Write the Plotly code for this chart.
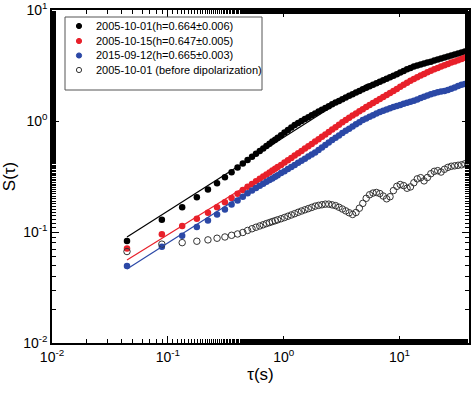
import plotly.graph_objects as go

# ---- data ----
tau = [0.0444, 0.0888, 0.133, 0.178, 0.222, 0.266, 0.311, 0.355, 0.400, 0.444,
       0.488, 0.533, 0.577, 0.622, 0.666, 0.710, 0.755, 0.799, 0.844, 0.888,
       0.950, 1.017, 1.088, 1.164, 1.245, 1.333, 1.426, 1.526, 1.633, 1.747,
       1.869, 2.000, 2.140, 2.290, 2.451, 2.622, 2.806, 3.002, 3.212, 3.437,
       3.678, 3.935, 4.211, 4.505, 4.821, 5.158, 5.519, 5.905, 6.319, 6.761,
       7.234, 7.741, 8.283, 8.862, 9.483, 10.15, 10.86, 11.62, 12.43, 13.30,
       14.23, 15.23, 16.29, 17.43, 18.65, 19.96, 21.36, 22.85, 24.45, 26.16,
       27.99, 29.95, 32.05, 34.29, 36.69, 39.26]

s_20051001 = [0.0831, 0.1288, 0.1672, 0.2054, 0.2420, 0.2755, 0.3116, 0.3453, 0.3805, 0.4131,
              0.4448, 0.4761, 0.5063, 0.5374, 0.5657, 0.5957, 0.6232, 0.6521, 0.6795, 0.7079,
              0.7452, 0.7861, 0.8277, 0.8731, 0.9192, 0.9596, 1.000, 1.040, 1.081, 1.127,
              1.171, 1.216, 1.264, 1.312, 1.361, 1.413, 1.466, 1.518, 1.572, 1.631,
              1.686, 1.742, 1.804, 1.865, 1.931, 1.991, 2.054, 2.123, 2.189, 2.258,
              2.333, 2.406, 2.481, 2.559, 2.639, 2.733, 2.824, 2.919, 3.010, 3.098,
              3.162, 3.228, 3.295, 3.357, 3.426, 3.505, 3.578, 3.652, 3.728, 3.806,
              3.893, 3.973, 4.055, 4.140, 4.235, 4.322]

s_20051015 = [0.0709, 0.0954, 0.1131, 0.1314, 0.1487, 0.1672, 0.1853, 0.2024, 0.2216, 0.2385,
              0.2553, 0.2710, 0.2865, 0.3017, 0.3155, 0.3301, 0.3440, 0.3578, 0.3713, 0.3845,
              0.4023, 0.4217, 0.4430, 0.4645, 0.4880, 0.5126, 0.5374, 0.5645, 0.5920, 0.6207,
              0.6521, 0.6851, 0.7197, 0.7561, 0.7959, 0.8382, 0.8806, 0.9268, 0.9736, 1.023,
              1.070, 1.120, 1.169, 1.223, 1.277, 1.334, 1.392, 1.451, 1.512, 1.578,
              1.645, 1.718, 1.789, 1.865, 1.947, 2.032, 2.118, 2.207, 2.304, 2.396,
              2.481, 2.564, 2.650, 2.745, 2.830, 2.919, 3.004, 3.092, 3.182, 3.268,
              3.357, 3.441, 3.526, 3.622, 3.705, 3.782]

s_20150912 = [0.0494, 0.0735, 0.0927, 0.1108, 0.1272, 0.1439, 0.1595, 0.1768, 0.1919, 0.2075,
              0.2229, 0.2366, 0.2485, 0.2606, 0.2715, 0.2830, 0.2937, 0.3041, 0.3144, 0.3249,
              0.3392, 0.3534, 0.3690, 0.3853, 0.4015, 0.4200, 0.4385, 0.4578, 0.4781, 0.4991,
              0.5212, 0.5475, 0.5763, 0.6067, 0.6400, 0.6740, 0.7065, 0.7421, 0.7781, 0.8176,
              0.8535, 0.8929, 0.9324, 0.9757, 1.019, 1.055, 1.090, 1.129, 1.167, 1.206,
              1.236, 1.269, 1.301, 1.334, 1.367, 1.395, 1.427, 1.457, 1.487, 1.524,
              1.565, 1.608, 1.652, 1.696, 1.739, 1.778, 1.815, 1.845, 1.868, 1.903,
              1.951, 2.004, 2.062, 2.118, 2.158, 2.189]

s_before = [0.0667, 0.0777, 0.0802, 0.0826, 0.0849, 0.0879, 0.0902, 0.0934, 0.0960, 0.0990,
            0.1033, 0.1070, 0.1104, 0.1134, 0.1162, 0.1191, 0.1216, 0.1241, 0.1264, 0.1288,
            0.1317, 0.1350, 0.1387, 0.1424, 0.1463, 0.1505, 0.1546, 0.1585, 0.1624, 0.1665,
            0.1710, 0.1738, 0.1760, 0.1782, 0.1782, 0.1756, 0.1728, 0.1672, 0.1611, 0.1549,
            0.1490, 0.1439, 0.1499, 0.1638, 0.1811, 0.2012, 0.2166, 0.2243, 0.2271, 0.2220,
            0.2109, 0.1991, 0.2079, 0.2361, 0.2579, 0.2677, 0.2617, 0.2480, 0.2547, 0.2778,
            0.3011, 0.3086, 0.2888, 0.3098, 0.3350, 0.3519, 0.3570, 0.3469, 0.3674, 0.3821,
            0.3908, 0.3948, 0.3990, 0.4031, 0.4115, 0.4217]

series_names = ["2005-10-01(h=0.664\u00b10.006)",
                "2005-10-15(h=0.647\u00b10.005)",
                "2015-09-12(h=0.665\u00b10.003)",
                "2005-10-01 (before dipolarization)"]

# power-law fits: S = a * (tau/tau0)^h over [tau0, tau_end]
fit_h = [0.664, 0.647, 0.665]
fit_a = [0.090, 0.056, 0.0465]
fit_tau0 = [0.0444, 0.0444, 0.0444]
fit_tau_end = [5.3, 0.7, 0.7]

x_ticks = [0.01, 0.1, 1, 10]
x_ticktext = ["10<sup>-2</sup>", "10<sup>-1</sup>", "10<sup>0</sup>", "10<sup>1</sup>"]
y_ticks = [0.01, 0.1, 1, 10]
y_ticktext = ["10<sup>-2</sup>", "10<sup>-1</sup>", "10<sup>0</sup>", "10<sup>1</sup>"]

# ---- styles ----
colors = ["#000000", "#e8202a", "#2b48a6"]
open_color = "#333333"
FONT = "Arial, Liberation Sans, sans-serif"
W, H = 474, 395
ML, MR, MT, MB = 52, 5, 10, 52
PW, PH = W - ML - MR, H - MT - MB


def px(xp):
    return (xp - ML) / PW


def py(yp):
    return 1 - (yp - MT) / PH


fig = go.Figure()
for vals, name, c in zip([s_20051001, s_20051015, s_20150912], series_names[:3], colors):
    fig.add_trace(go.Scatter(x=tau, y=vals, mode="markers", name=name, showlegend=False,
                             marker=dict(size=6.5, color=c, line=dict(width=0))))
fig.add_trace(go.Scatter(x=tau, y=s_before, mode="markers", name=series_names[3], showlegend=False,
                         marker=dict(size=6.5, symbol="circle-open", color=open_color,
                                     line=dict(width=1, color=open_color))))

for h, a, t0, t1, c in zip(fit_h, fit_a, fit_tau0, fit_tau_end, colors):
    fig.add_trace(go.Scatter(x=[t0, t1], y=[a, a * (t1 / t0) ** h], mode="lines",
                             showlegend=False, line=dict(color=c, width=1.2)))

axis_common = dict(type="log", showgrid=False, zeroline=False, showline=True, automargin=False,
                   linecolor="black", linewidth=1.5, mirror="allticks",
                   ticks="inside", ticklen=7, tickwidth=1.2, tickcolor="black",
                   ticklabeloverflow="allow",
                   tickfont=dict(family=FONT, size=14, color="black"),
                   minor=dict(ticks="inside", ticklen=4, tickwidth=1, tickcolor="black", showgrid=False))

fig.update_xaxes(**axis_common, range=[-2, 1.6], tickvals=x_ticks, ticktext=x_ticktext,
                 title=dict(text="\u03c4(s)", font=dict(family=FONT, size=17, color="black"), standoff=3))
fig.update_yaxes(**axis_common, range=[-2, 1], tickvals=y_ticks, ticktext=y_ticktext,
                 title=dict(text="S(\u03c4)", font=dict(family=FONT, size=17, color="black"), standoff=3))

# ---- hand-built legend (box, swatches, labels) ----
shapes = [dict(type="rect", xref="paper", yref="paper", x0=px(65), x1=px(262), y0=py(90), y1=py(17),
               line=dict(color="#555555", width=1), fillcolor="white", layer="above")]
annotations = []
row_y = [26, 41, 55.5, 70]
for i, name in enumerate(series_names):
    if i < 3:
        fill, lc = colors[i], colors[i]
    else:
        fill, lc = "white", open_color
    shapes.append(dict(type="circle", xref="paper", yref="paper", xsizemode="pixel", ysizemode="pixel",
                       xanchor=px(79), yanchor=py(row_y[i]), x0=-2.6, x1=2.6, y0=-2.6, y1=2.6,
                       fillcolor=fill, line=dict(color=lc, width=1), layer="above"))
    annotations.append(dict(xref="paper", yref="paper", x=px(94), y=py(row_y[i]), xanchor="left",
                            yanchor="middle", showarrow=False, text=name,
                            font=dict(family=FONT, size=11, color="black")))

fig.update_layout(
    width=W, height=H,
    margin=dict(l=ML, r=MR, t=MT, b=MB),
    paper_bgcolor="white", plot_bgcolor="white",
    font=dict(family=FONT, color="black"),
    showlegend=False,
    shapes=shapes, annotations=annotations,
)

fig.write_html("out.html", config={"displayModeBar": False},
               post_script="document.body.style.margin='0px';document.body.style.padding='0px';")
